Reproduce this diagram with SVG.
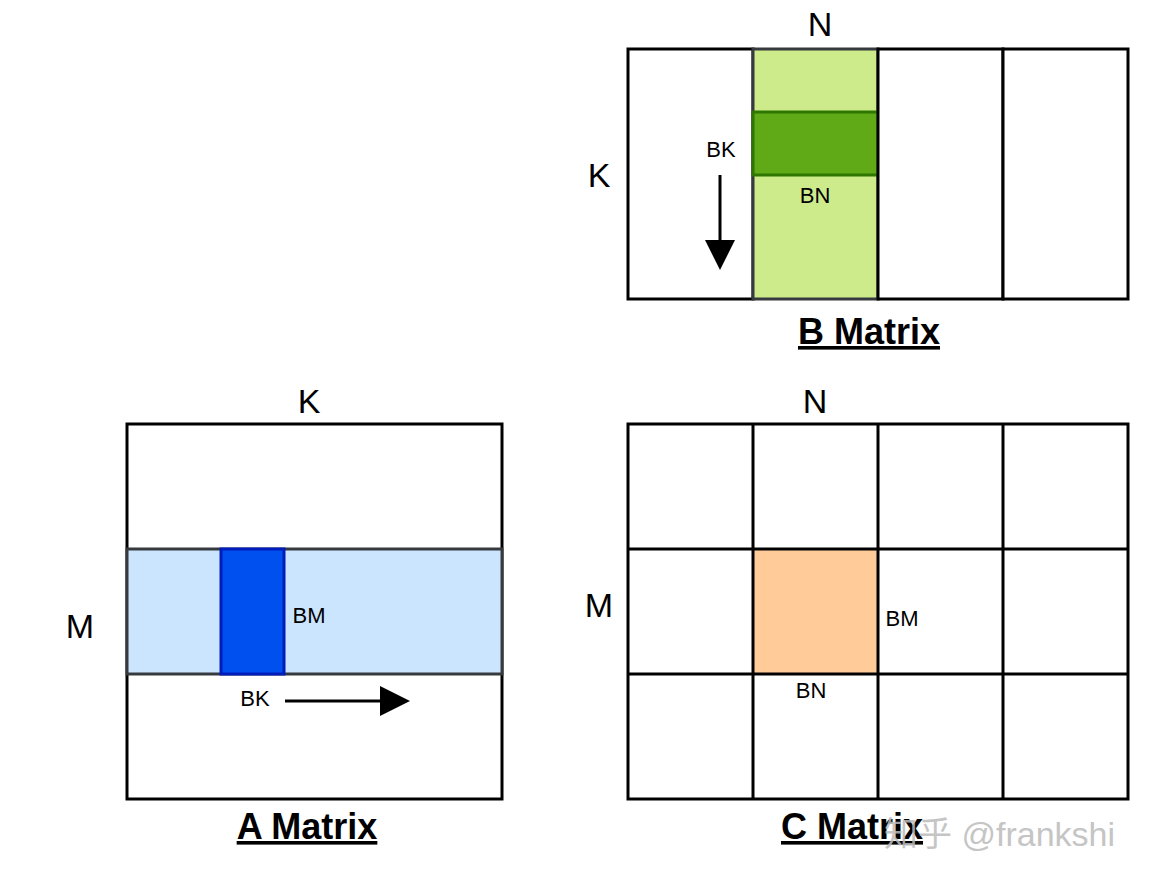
<svg xmlns="http://www.w3.org/2000/svg" width="1152" height="882" viewBox="0 0 1152 882">
<style>
text{font-family:"Liberation Sans",Arial,sans-serif;fill:#000}
.cell{fill:#fff;stroke:#000;stroke-width:3}
.big{font-size:34px;text-anchor:middle}
.sm{font-size:22px;text-anchor:middle}
.title{font-size:36px;font-weight:bold;text-anchor:middle;text-decoration:underline}
</style>
<defs><marker id="ah" markerWidth="10" markerHeight="10" refX="2" refY="5" orient="auto" markerUnits="strokeWidth"><path d="M0,0 L10,5 L0,10 z" fill="#000"/></marker></defs>
<rect width="1152" height="882" fill="#fff"/>
<g id="bmatrix">
<rect class="cell" x="628" y="49" width="125" height="250"/>
<rect x="753" y="49" width="125" height="250" fill="#cdeb8b" stroke="#36393d" stroke-width="3"/>
<rect x="753" y="112" width="125" height="63" fill="#60a917" stroke="#2d7600" stroke-width="3"/>
<rect class="cell" x="878" y="49" width="125" height="250"/>
<rect class="cell" x="1003" y="49" width="125" height="250"/>
<text class="big" x="820" y="36">N</text>
<text class="big" x="599" y="187">K</text>
<text class="sm" x="721" y="157">BK</text>
<text class="sm" x="815" y="203">BN</text>
<text class="title" x="869" y="344">B Matrix</text>
</g>
<g id="amatrix">
<rect class="cell" x="127" y="424" width="375" height="375"/>
<rect x="127" y="549" width="375" height="125" fill="#cce5ff" stroke="#36393d" stroke-width="3"/>
<rect x="221" y="549" width="63" height="125" fill="#0050ef" stroke="#001dbc" stroke-width="3"/>
<text class="big" x="309" y="413">K</text>
<text class="big" x="80" y="638">M</text>
<text class="sm" x="309" y="623">BM</text>
<text class="sm" x="255" y="706">BK</text>
<text class="title" x="307" y="839">A Matrix</text>
</g>
<g id="cmatrix">
<rect class="cell" x="628" y="424" width="500" height="375"/>
<rect x="753" y="549" width="125" height="125" fill="#ffcc99"/>
<path d="M753,424V799M878,424V799M1003,424V799M628,549H1128M628,674H1128" stroke="#000" stroke-width="3" fill="none"/>
<text class="big" x="815" y="413">N</text>
<text class="big" x="599" y="617">M</text>
<text class="sm" x="902" y="626">BM</text>
<text class="sm" x="811" y="698">BN</text>
<text class="title" x="852" y="839">C Matrix</text>
</g>
<g id="connectors">
<line x1="720" y1="175" x2="720" y2="246" stroke="#000" stroke-width="3" marker-end="url(#ah)"/>
<line x1="285" y1="701" x2="386" y2="701" stroke="#000" stroke-width="3" marker-end="url(#ah)"/>
</g>
<text x="884" y="846" font-size="34" style="fill:#bbb;font-family:'Liberation Sans','Noto Sans CJK SC',sans-serif" opacity="0.85">知乎 @frankshi</text>
</svg>
